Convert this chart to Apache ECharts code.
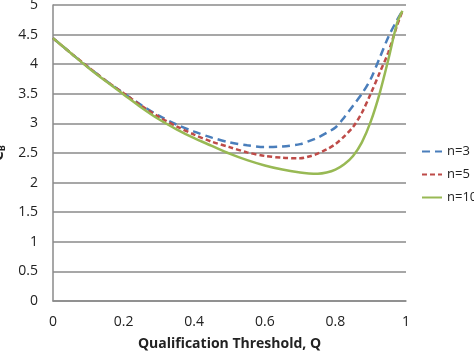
<!DOCTYPE html>
<html>
<head>
<meta charset="utf-8">
<script src="https://cdn.jsdelivr.net/npm/echarts@6/dist/echarts.min.js"></script>
<style>
  html, body { margin: 0; padding: 0; background: #fff; }
  #chart { width: 474px; height: 352px; }
</style>
</head>
<body>
<div id="chart"></div>
<script>
// qualification threshold Q
const qValues = [0, 0.05, 0.1, 0.15, 0.2, 0.25, 0.3, 0.35, 0.4, 0.45, 0.5, 0.55, 0.6, 0.65, 0.7, 0.725, 0.75, 0.775, 0.8, 0.825, 0.85, 0.875, 0.9, 0.925, 0.95, 0.975, 0.99]
// C_B for each n
const n3  = [4.44, 4.19, 3.95, 3.72, 3.51, 3.31, 3.13, 2.98, 2.86, 2.76, 2.68, 2.63, 2.6, 2.61, 2.65, 2.7, 2.76, 2.84, 2.93, 3.1, 3.3, 3.5, 3.75, 4.1, 4.46, 4.75, 4.9]
const n5  = [4.44, 4.19, 3.95, 3.72, 3.51, 3.3, 3.11, 2.95, 2.81, 2.69, 2.6, 2.51, 2.45, 2.42, 2.41, 2.44, 2.49, 2.56, 2.65, 2.78, 2.94, 3.18, 3.5, 3.85, 4.2, 4.66, 4.9]
const n10 = [4.44, 4.19, 3.94, 3.71, 3.49, 3.27, 3.07, 2.9, 2.75, 2.62, 2.49, 2.38, 2.29, 2.22, 2.17, 2.155, 2.15, 2.17, 2.22, 2.31, 2.45, 2.68, 3.03, 3.5, 4.08, 4.7, 4.9]
const seriesNames = ['n=3', 'n=5', 'n=10']
const xTicks = [0, 0.2, 0.4, 0.6, 0.8, 1]
const yTicks = [0, 0.5, 1, 1.5, 2, 2.5, 3, 3.5, 4, 4.5, 5]

const pairs = arr => qValues.map((q, i) => [q, arr[i]])
const font = '"Open Sans", "Liberation Sans", sans-serif'

const chart = echarts.init(document.getElementById('chart'))
chart.setOption({
  animation: false,
  textStyle: { fontFamily: font },
  grid: { left: 53, right: 68, top: 5, bottom: 51, containLabel: false, outerBoundsMode: 'none' },
  legend: {
    orient: 'vertical',
    left: 416,
    top: 140,
    itemWidth: 20,
    itemHeight: 14,
    itemGap: 10,
    itemStyle: { opacity: 0 },
    textStyle: { fontSize: 13, color: '#222', fontFamily: font },
    data: seriesNames
  },
  xAxis: {
    type: 'value',
    min: 0, max: 1, interval: 0.2,
    name: 'Qualification Threshold, Q',
    nameLocation: 'middle',
    nameGap: 36,
    nameTextStyle: { fontSize: 14, fontWeight: 'bold', color: '#222', fontFamily: font },
    axisLine: { lineStyle: { color: '#8a8a8a', width: 1.5 } },
    axisTick: { show: false },
    splitLine: { show: false },
    axisLabel: { fontSize: 14, color: '#222', margin: 14, formatter: v => xTicks.includes(+v.toFixed(1)) ? String(+v.toFixed(1)) : '' }
  },
  yAxis: {
    type: 'value',
    min: 0, max: 5, interval: 0.5,
    name: '{c|C}{b|B}',
    nameLocation: 'middle',
    nameGap: 37,
    nameRotate: 90,
    nameTextStyle: {
      rich: {
        c: { fontSize: 15, fontWeight: 'bold', color: '#222', fontFamily: font },
        b: { fontSize: 9, fontWeight: 'bold', color: '#222', fontFamily: font, verticalAlign: 'bottom', padding: [8, 0, 0, 0] }
      }
    },
    axisLine: { show: true, lineStyle: { color: '#8a8a8a', width: 1.5 } },
    axisTick: { show: false },
    splitLine: { lineStyle: { color: '#8a8a8a', width: 1.5 } },
    axisLabel: { fontSize: 14, color: '#222', margin: 15, formatter: v => yTicks.includes(v) ? String(v) : '' }
  },
  series: [
    { name: seriesNames[0], type: 'line', data: pairs(n3), smooth: 0.3, symbol: 'none',
      lineStyle: { color: '#4a7ebb', width: 2.5, type: [8, 5] }, itemStyle: { color: '#4a7ebb' } },
    { name: seriesNames[1], type: 'line', data: pairs(n5), smooth: 0.3, symbol: 'none',
      lineStyle: { color: '#be4b48', width: 2.5, type: [5, 3] }, itemStyle: { color: '#be4b48' } },
    { name: seriesNames[2], type: 'line', data: pairs(n10), smooth: 0.3, symbol: 'none',
      lineStyle: { color: '#98b954', width: 2.5 }, itemStyle: { color: '#98b954' } }
  ]
})
</script>
</body>
</html>
